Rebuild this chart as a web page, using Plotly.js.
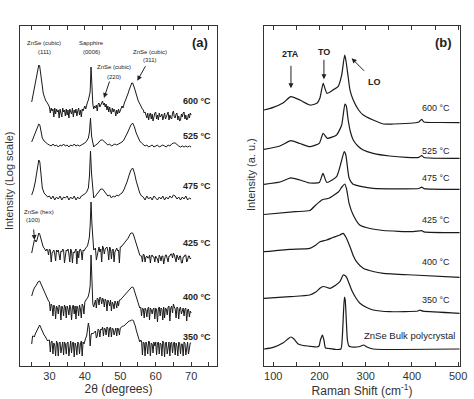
<!DOCTYPE html>
<html>
<head>
<meta charset="utf-8">
<script src="https://cdn.plot.ly/plotly-3.0.1.min.js"></script>
<style>html,body{margin:0;padding:0;background:#fff;}#chart{width:474px;height:399px;}</style>
</head>
<body>
<div id="chart"></div>
<script>
// ---------- Panel (a): XRD ----------
// coarse 2θ grid (smooth scans: 525 °C, 475 °C)
const twoTheta = [25,25.5,26,26.5,27, 27.3,27.6,
  28,28.5,29,29.5,30,30.5,31,31.5,32,32.5,33,33.5,34,34.5,35,35.5,36,36.5,37,37.5,38,38.5,39,39.5,40,40.5,41,
  41.3,41.6,41.9,42.2,
  42.5,43,43.5,44,44.5,45,45.5,46,46.5,47,47.5,48,48.5,49,49.5,50,50.5,51,51.5,52,52.5,53,53.5,54,54.5,55,55.5,56,56.5,57,57.5,58,58.5,59,59.5,60,60.5,61,61.5,62,62.5,63,63.5,64,64.5,65,65.5,66,66.5,67,67.5,68,68.5,69,69.5,70];
// fine 2θ grid (noisy scans: 600, 425, 400, 350 °C)
const twoThetaFine = [
  25,25.25,25.5,25.75,26,26.25,26.5,26.75,27,27.25,
  27.5,27.75,28,28.25,28.5,28.75,29,29.25,29.5,29.75,
  30,30.25,30.5,30.75,31,31.25,31.5,31.75,32,32.25,
  32.5,32.75,33,33.25,33.5,33.75,34,34.25,34.5,34.75,
  35,35.25,35.5,35.75,36,36.25,36.5,36.75,37,37.25,
  37.5,37.75,38,38.25,38.5,38.75,39,39.25,39.5,39.75,
  40,40.25,40.5,40.75,41,41.25,41.5,41.75,42,42.25,
  42.5,42.75,43,43.25,43.5,43.75,44,44.25,44.5,44.75,
  45,45.25,45.5,45.75,46,46.25,46.5,46.75,47,47.25,
  47.5,47.75,48,48.25,48.5,48.75,49,49.25,49.5,49.75,
  50,50.25,50.5,50.75,51,51.25,51.5,51.75,52,52.25,
  52.5,52.75,53,53.25,53.5,53.75,54,54.25,54.5,54.75,
  55,55.25,55.5,55.75,56,56.25,56.5,56.75,57,57.25,
  57.5,57.75,58,58.25,58.5,58.75,59,59.25,59.5,59.75,
  60,60.25,60.5,60.75,61,61.25,61.5,61.75,62,62.25,
  62.5,62.75,63,63.25,63.5,63.75,64,64.25,64.5,64.75,
  65,65.25,65.5,65.75,66,66.25,66.5,66.75,67,67.25,
  67.5,67.75,68,68.25,68.5,68.75,69,69.25,69.5,69.75,
  70];

// stacked log-intensity (arbitrary units, stacking offsets included)
const xrd600 = [
  264,269,274,279,284,289,294,298,301,300,
  292,284,278,273,270,267,265,264,263,261,
  259,253,258,255,257,249,258,252,257,254,
  256,248,257,253,249,258,254,256,250,257,
  251,256,248,257,255,252,258,249,256,253,
  257,250,255,258,251,256,249,257,255,258,
  260,257,262,264,266,270,274,299,278,262,
  257,260,258,261,255,262,263,259,261,264,
  265,261,263,259,262,256,260,254,259,255,
  252,258,254,257,255,250,256,252,257,253,
  256,259,260,258,262,264,266,268,270,273,
  276,279,281,283,283,281,278,275,271,268,
  266,264,262,260,259,257,256,253,254,250,
  248,253,246,251,253,247,252,245,250,253,
  254,247,251,246,253,249,250,252,246,251,
  253,247,249,252,254,246,251,248,247,253,
  255,249,248,252,253,246,250,245,246,252,
  249,253,254,247,251,246,247,252,248,253,
  251];
const xrd525 = [224,229,233,238,242, 241,234,
  228,225,223,222,221,220,222,220,221,219,221,220,222,220,221,219,221,220,222,220,221,220,221,222,223,225,228,
  234,248,230,222,
  219,221,222,224,226,226,224,222,221,222,220,221,222,221,222,223,224,226,229,233,237,241,243,239,233,228,225,223,221,220,221,219,220,221,219,220,221,219,220,221,220,219,221,220,222,223,223,221,220,219,220,219,220,219,220,219];
const xrd475 = [171,176,184,196,206, 204,190,
  178,173,171,169,170,167,170,166,169,167,170,166,169,168,170,166,169,167,170,166,169,167,170,171,172,174,178,
  190,215,192,174,
  168,170,172,175,177,177,175,172,170,171,168,170,169,171,170,172,173,176,180,185,191,196,198,193,185,178,173,170,169,166,170,167,169,166,170,168,166,169,167,170,166,169,167,170,168,171,170,167,169,166,169,167,170,166,168,167];
const xrd425 = [
  113,118,122,126,126,124,126,130,133,132,
  128,124,121,119,118,116,115,117,116,111,
  117,116,104,113,115,116,112,105,116,114,
  116,108,106,115,114,117,116,103,109,116,
  115,117,112,104,117,115,103,114,113,116,
  117,102,115,108,116,117,114,106,116,115,
  117,118,119,120,124,128,140,164,142,121,
  116,117,118,106,110,117,119,114,117,104,
  120,118,112,117,118,119,115,106,119,117,
  107,116,117,104,114,117,118,115,116,103,
  119,119,120,121,122,123,124,126,127,128,
  130,132,133,133,133,131,128,125,122,119,
  116,113,111,110,110,104,112,111,104,109,
  110,108,108,111,103,110,111,109,109,104,
  110,108,107,103,111,109,105,110,110,102,
  108,111,111,106,104,110,110,112,112,108,
  113,111,108,104,111,109,106,110,110,103,
  103,109,109,111,111,104,106,110,110,107,
  108];
const xrd400 = [
  70,74,76,78,79,81,82,84,85,85,
  83,81,78,76,74,72,70,69,67,65,
  64,55,62,60,50,61,59,47,60,58,
  52,61,59,46,60,58,50,61,59,48,
  60,57,51,61,58,46,59,61,52,60,
  47,60,58,50,61,57,48,62,60,52,
  64,66,67,68,70,74,80,111,90,62,
  59,64,66,58,68,67,61,69,68,62,
  68,66,59,67,65,55,66,64,60,66,
  55,64,62,57,65,63,58,65,60,66,
  66,67,68,69,70,71,72,73,75,76,
  77,78,79,79,79,78,75,72,69,66,
  63,60,58,59,50,58,57,48,58,56,
  49,57,59,46,58,56,52,57,58,47,
  58,56,44,57,59,50,58,57,46,59,
  48,58,57,51,59,60,45,58,60,53,
  62,59,57,48,59,58,47,57,59,52,
  55,58,50,57,58,45,56,57,49,55,
  53];
const xrd350 = [
  22,30,30,29,32,34,36,38,40,41,
  39,37,34,33,31,30,28,27,25,26,
  26,14,24,25,12,23,21,10,25,23,
  10,23,24,13,20,24,11,24,22,12,
  23,24,10,22,25,13,23,24,9,23,
  20,11,24,23,12,22,25,10,24,22,
  26,28,30,36,43,38,20,31,33,32,
  33,34,35,28,30,37,36,29,37,36,
  39,30,38,37,31,39,38,29,38,39,
  29,38,37,31,37,38,30,38,37,31,
  38,39,39,40,40,41,41,42,43,44,
  45,45,46,46,46,45,42,40,36,33,
  30,27,24,26,25,11,24,23,10,24,
  21,12,25,24,10,23,22,13,24,20,
  24,11,23,24,12,23,22,10,25,23,
  9,23,24,12,21,24,10,23,24,13,
  22,24,11,23,20,10,24,23,12,22,
  22,10,24,23,11,22,24,12,21,23,
  23];

// ---------- Panel (b): Raman ----------
const r600x = [80,100,121,138,157.7,179,194.5,201,208,216,229,240,248,254.4,257,262,266,273,284.6,294.6,316,338,359.5,403,415,421,426,460,503];
const r600y = [256,258.7,263,269.3,266,261,262.7,268,282.7,272.7,276,279.3,291,311,306,289.3,276,266,256,251,246,242,242,243,244,246.7,244,243.5,243.3];
const r525x = [80,114.5,138,157.7,179,199.5,208,217,237,248,255,258,262,267,273,283,294.6,316,352,388,415,421,426,503];
const r525y = [216.7,220,225.3,222.5,219.3,222.7,232.7,227.7,231,241,262,260,246,234,226,220,216,212.7,210,208.7,208.7,210.5,208.5,207.7];
const r475x = [80,114.5,138,157.7,179,199.5,207.5,216,237,246.4,253.5,257,264,272,292,316,415,421,426,503];
const r475y = [181.7,184,188.2,186,183,183.5,192.7,183.5,189.3,203,214.3,211,188,182,179.3,177.7,177.5,178.8,177.4,176.7];
const r425x = [80,147.6,179,192,205,212,220,241.4,248.5,255,259,264,273,287,309,338,403,421,426,503];
const r425y = [151.5,154.3,155.5,161,166,167,167.7,174.3,179,182,176,162.7,151,141,137.5,135.5,134.3,135.3,134.2,133.3];
const r400x = [80,136,179,192.3,201,215.5,229,244,251,257,266,273.4,280,294.6,316,338,403,503];
const r400y = [114.3,116.7,117.7,121,124.3,126,128.5,131,132.7,129,119.3,110,104.3,97.7,94.5,92.7,91,88.7];
const r350x = [80,136,179,192,201,207.5,214,222.6,235.6,244,251.4,255,258.7,269.5,278.8,287.5,302,316,352,413,417,424,503];
const r350y = [67.7,69.3,71,74,77.7,79.5,79,77.7,81,84.3,91,90.5,88.7,76,68,62.7,58.5,56,54.3,55,55.8,54.8,52.7];
const rBulkx = [80,100,121.6,131.8,138,144.8,154,165,183.7,193.4,199,202,206.4,209.6,213,220,235.6,246.4,249.6,252.2,254,255.7,258,260.4,263.7,270,287.5,295.5,302.6,316,373.7,503];
const rBulky = [17,18.7,23.3,27,29,27,22,20.5,19.5,19,20,26,31,26,18,17.5,16.5,17,31,56,69,66,46,26,20,19,19.5,21,19,17,16.5,17];

const tempLabels = ['600 °C','525 °C','475 °C','425 °C','400 °C','350 °C'];
const tempLabelYa = [265,230,180,123,69,29];
const ramanLabels = ['600 °C','525 °C','475 °C','425 °C','400 °C','350 °C','ZnSe Bulk polycrystal'];
const ramanLabelY = [258,215,188,146,104,66,31];

const FONT = 'Liberation Sans, Arial, Helvetica, sans-serif';
const LC = '#1a1a1a';

const traces = [];
[[twoThetaFine,xrd600],[twoTheta,xrd525],[twoTheta,xrd475],[twoThetaFine,xrd425],[twoThetaFine,xrd400],[twoThetaFine,xrd350]]
  .forEach(p => traces.push({x:p[0], y:p[1], xaxis:'x', yaxis:'y', mode:'lines',
    line:{color:LC, width:1}, hoverinfo:'skip'}));
[[r600x,r600y],[r525x,r525y],[r475x,r475y],[r425x,r425y],[r400x,r400y],[r350x,r350y],[rBulkx,rBulky]].forEach(p =>
  traces.push({x:p[0], y:p[1], xaxis:'x2', yaxis:'y2', mode:'lines',
    line:{color:LC, width:1.2, shape:'spline', smoothing:0.5}, hoverinfo:'skip'}));

const ann = [];
function txt(xref, yref, x, y, text, size, bold, anchor) {
  ann.push({xref, yref, x, y, text: bold ? '<b>'+text+'</b>' : text, showarrow:false,
    xanchor: anchor || 'center', yanchor:'middle', font:{family:FONT, size, color:'#222'}});
}
function arrow(xref, yref, x, y, ax, ay) {
  ann.push({xref, yref, x, y, ax, ay, text:'', showarrow:true, arrowhead:2, arrowsize:1, arrowwidth:1, arrowcolor:'#222'});
}
tempLabels.forEach((t,i) => txt('x','y',76.3,tempLabelYa[i],t,9,true,'right'));
ramanLabels.forEach((t,i) => txt('x2','y2',i===6?395.6:453,ramanLabelY[i],t,i===6?9.5:9,false,'center'));

txt('x','y',28.6,322.7,'ZnSe (cubic)',6,false); txt('x','y',28.6,314.3,'(111)',6,false);
txt('x','y',41.9,322.7,'Sapphire',6,false); txt('x','y',41.9,314.3,'(0006)',6,false);
txt('x','y',48.3,299.3,'ZnSe (cubic)',6,false); txt('x','y',48.3,289.3,'(220)',6,false);
txt('x','y',58.4,314.3,'ZnSe (cubic)',6,false); txt('x','y',58.4,306,'(311)',6,false);
txt('x','y',27.1,154.3,'ZnSe (hex)',6,false); txt('x','y',25.5,146,'(100)',6,false);
txt('x','y',72.5,323.3,'(a)',13,true);
arrow('x','y',45.4,268,6,-18);
arrow('x','y',54.8,285.3,9,-16);
arrow('x','y',25.8,126,-1,-12);

txt('x2','y2',469,323.3,'(b)',13,true);
txt('x2','y2',138.3,311.7,'2TA',9,true);
txt('x2','y2',209.6,314.3,'TO',9,true);
txt('x2','y2',320,284.3,'LO',9,true);
arrow('x2','y2',138.3,277.7,0,-24);
arrow('x2','y2',209.6,286.7,0,-21);
arrow('x2','y2',269.5,307.7,14,14);

// y-axis titles (rotated), placed as in the reference
ann.push({xref:'paper', yref:'paper', x:9/474, y:1-181/399, text:'Intensity (Log scale)', textangle:-90, showarrow:false,
  xanchor:'center', yanchor:'middle', font:{family:FONT, size:11, color:'#333'}});
ann.push({xref:'paper', yref:'paper', x:251/474, y:1-175/399, text:'Intensity (a. u.)', textangle:-90, showarrow:false,
  xanchor:'center', yanchor:'middle', font:{family:FONT, size:11, color:'#333'}});

const axBase = {showline:true, mirror:'ticks', linecolor:'#333', linewidth:1, showgrid:false, zeroline:false,
  ticks:'inside', ticklen:4, tickcolor:'#333', tickfont:{family:FONT, size:11, color:'#333'}};
const yBase = {showline:true, mirror:true, linecolor:'#333', linewidth:1, showgrid:false, zeroline:false,
  showticklabels:false, ticks:'', range:[0,340], domain:[0.0827,0.9348]};

const layout = {
  width:474, height:399, margin:{l:0,r:0,t:0,b:0}, paper_bgcolor:'#fff', plot_bgcolor:'#fff', showlegend:false,
  xaxis: Object.assign({}, axBase, {domain:[0.0422,0.4578], range:[21.7,77.3], tick0:0, dtick:10, anchor:'y',
    minor:{dtick:5, ticks:'inside', ticklen:4, tickcolor:'#333'},
    title:{text:'2θ (degrees)', font:{family:FONT, size:12, color:'#333'}, standoff:3}}),
  yaxis: Object.assign({}, yBase, {anchor:'x'}),
  xaxis2: Object.assign({}, axBase, {domain:[0.557,0.9705], range:[80,504], tick0:0, dtick:100, anchor:'y2',
    minor:{dtick:50, ticks:'inside', ticklen:4, tickcolor:'#333'},
    title:{text:'Raman Shift (cm<sup>-1</sup>)', font:{family:FONT, size:12, color:'#333'}, standoff:3}}),
  yaxis2: Object.assign({}, yBase, {anchor:'x2'}),
  annotations: ann
};
Plotly.newPlot('chart', traces, layout, {staticPlot:true, displayModeBar:false});
</script>
</body>
</html>
